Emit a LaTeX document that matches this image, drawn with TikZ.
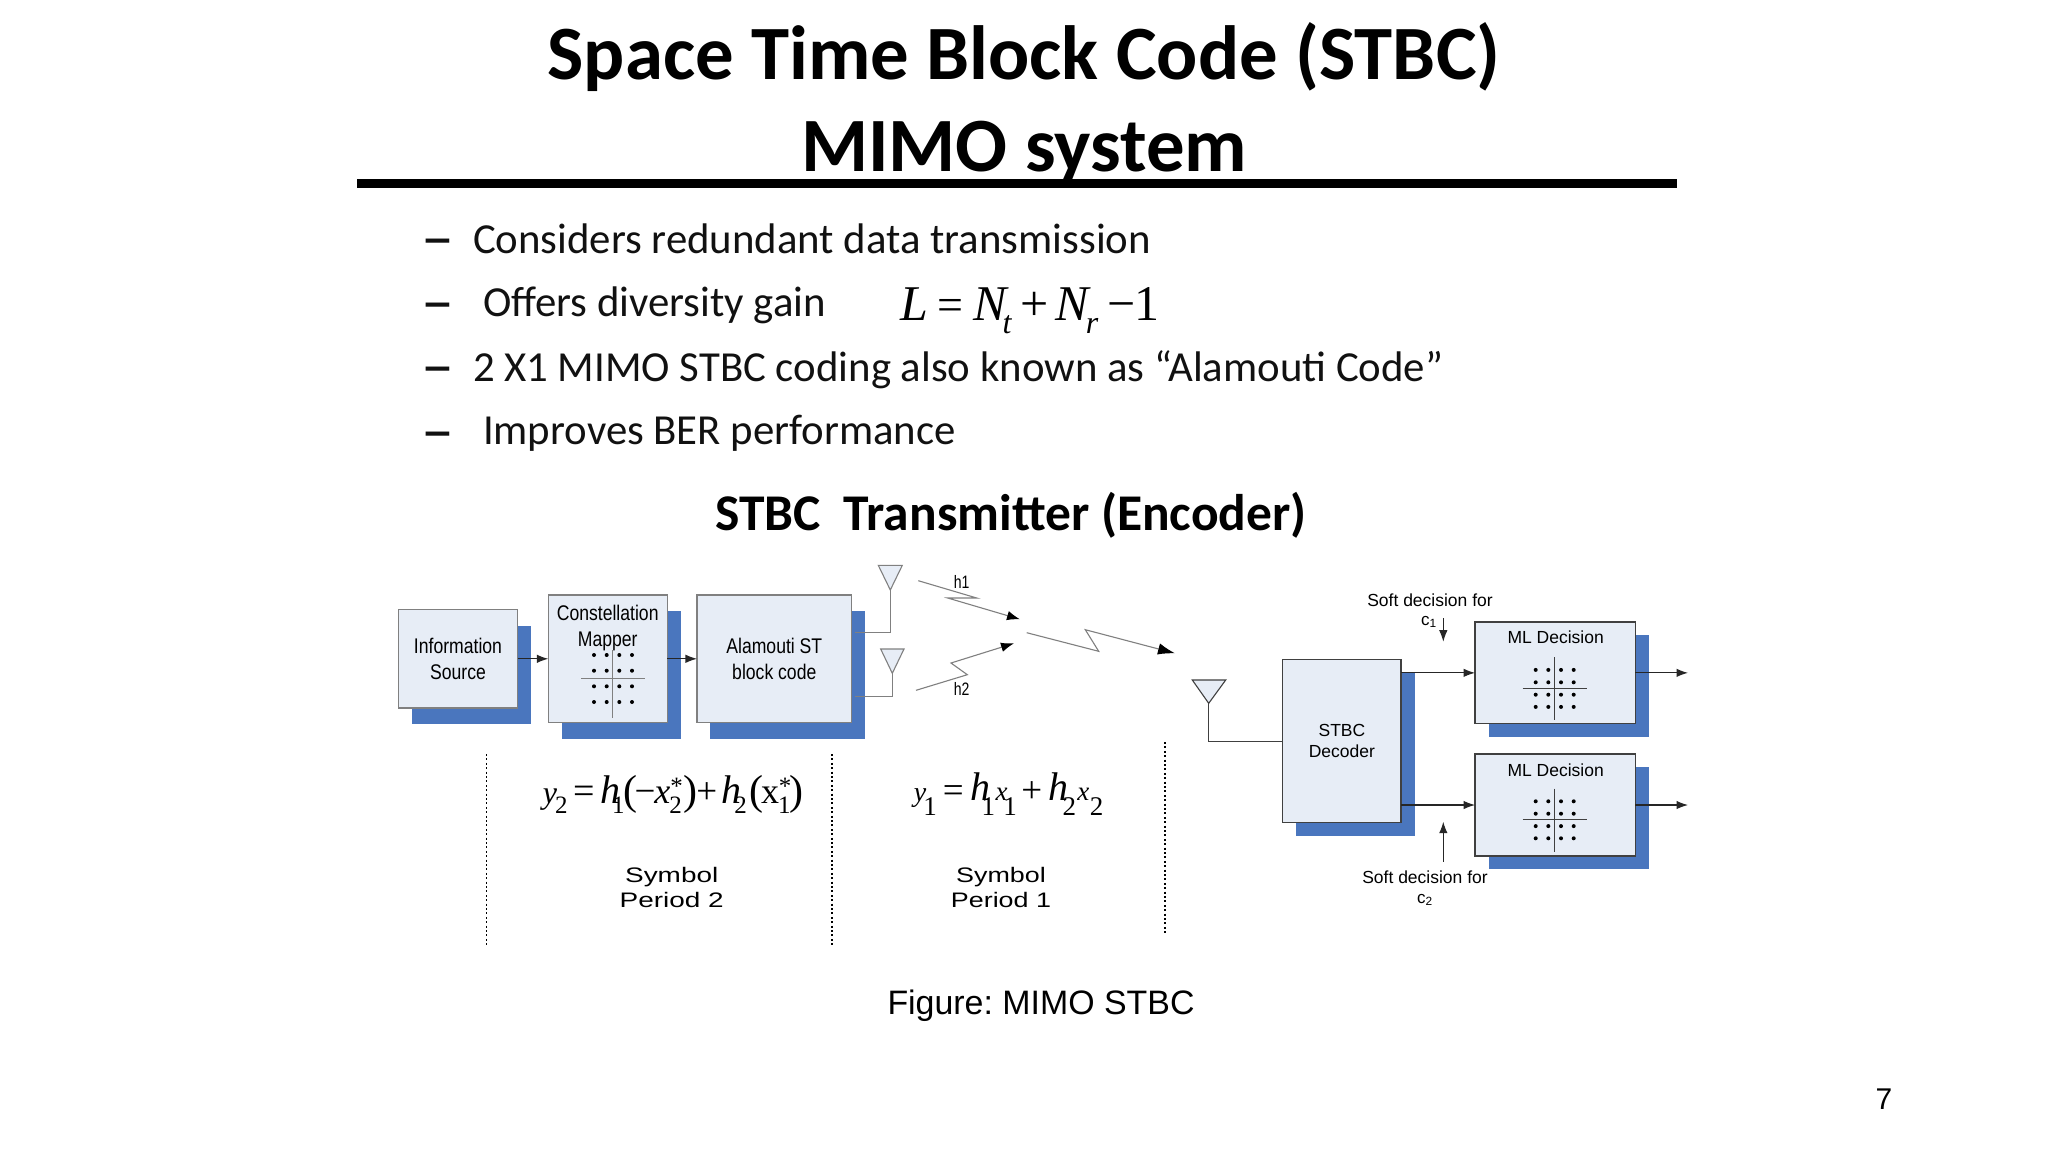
\documentclass[tikz,border=0pt]{standalone}
\usepackage{fontspec}
\usetikzlibrary{arrows.meta,backgrounds,calc}
\setmainfont{Liberation Sans}
\newfontfamily\slidefont{Carlito}
\newfontfamily\mathsfont{Liberation Serif}
\newfontfamily\condfont[FakeStretch=0.83]{Liberation Sans}
\newfontfamily\hfont[FakeStretch=0.78]{Liberation Sans}
\newfontfamily\widefont[FakeStretch=1.33]{Liberation Sans}
\newfontfamily\widerfont[FakeStretch=1.28]{Liberation Sans}
\newcommand\fs[2]{\fontsize{#1pt}{#2pt}\selectfont}
% a glyph of a hand-set formula: centre x, raise, size, text
\newcommand\gly[4]{\makebox[0pt][l]{\kern#1pt\makebox[0pt][c]{\raisebox{#2pt}{\fs{#3}{#3}#4}}}}
\definecolor{boxfill}{HTML}{E7EDF6}
\definecolor{blockblue}{HTML}{4A76BE}
\definecolor{leftline}{HTML}{808080}
\definecolor{rightline}{HTML}{404040}
\definecolor{slideink}{HTML}{111111}
\frenchspacing
\tikzset{
  txt/.style={inner sep=0pt,outer sep=0pt,align=center},
  basetxt/.style={inner sep=0pt,outer sep=0pt,anchor=base west},
  basemid/.style={inner sep=0pt,outer sep=0pt,anchor=base},
  bullet/.style={basetxt,text=slideink,font=\slidefont\frenchspacing\fs{42.8}{50}},
  dashmark/.style={basetxt,text=slideink,font=\slidefont\fs{66}{70}},
  lbox/.style={draw=leftline,fill=boxfill,line width=1.2pt,inner sep=0pt,outer sep=0pt,align=center,font=\condfont\fs{21.2}{26}},
  rbox/.style={draw=rightline,fill=boxfill,line width=1.2pt,inner sep=0pt,outer sep=0pt,align=center,font=\fs{17.5}{20.5}},
  lwire/.style={draw=leftline,line width=1.1pt},
  rwire/.style={draw=rightline,line width=1.1pt},
  darrow/.style={draw=black!85,line width=1.1pt,-{Latex[length=11.5pt,width=8.5pt]}},
  lant/.style={draw=leftline,fill=boxfill,line width=1.1pt,line join=miter},
  rant/.style={draw=rightline,fill=boxfill,line width=1.1pt,line join=miter},
  bolt/.style={draw=leftline,line width=1.1pt,line join=miter},
  divider/.style={draw=black,line width=1.6pt,dash pattern=on 2pt off 2.4pt},
  small/.style={txt,font=\fs{17.5}{20}},
}
\newcommand\blockshadow[2]{\fill[blockblue] ([shift={(13.5,#2)}]#1.north west) rectangle ([shift={(13.5,#2)}]#1.south east);}
\newcommand\mlgrid[1]{%
  \foreach \gx in {-19,-6.4,6.3,19} \foreach \gy in {-18.4,-6,6.4,18.6}
    \fill[black] ($(#1)+(\gx,\gy)$) circle (2pt);
  \draw[rwire] ($(#1)+(-32,0)$) -- ($(#1)+(32,0)$);
  \draw[rwire] ($(#1)+(0,-31)$) -- ($(#1)+(0,32)$);
}
\begin{document}
\begin{tikzpicture}[x=1pt,y=-1pt]
\useasboundingbox (0,0) rectangle (2048,1152);

% title
\node[basemid,font=\slidefont\bfseries\fs{76.8}{90}] (title1) at (1024,79.5) {Space Time Block Code (STBC)};
\node[basemid,font=\slidefont\bfseries\fs{76.8}{90}] (title2) at (1024,171) {MIMO system};
\fill[black] (357.3,178.5) rectangle (1677,187.7);

% bullets
\node[dashmark] (d1) at (421,259) {–};
\node[bullet] (b1) at (473,253) {Considers redundant data transmission};
\node[dashmark] (d2) at (421,323.5) {–};
\node[bullet] (b2) at (483,316.5) {Offers diversity gain};
\node[dashmark] (d3) at (421,387) {–};
\node[bullet] (b3) at (473,381.5) {2 X1 MIMO STBC coding also known as “Alamouti Code”};
\node[dashmark] (d4) at (421,452) {–};
\node[bullet] (b4) at (483,444.5) {Improves BER performance};

\node[basetxt,font=\mathsfont] (eqL) at (902,320) {\makebox[252pt][l]{%
  \gly{12}{0}{50}{\itshape L}\gly{48}{0}{46}{=}\gly{87.7}{0}{50}{\itshape N}\gly{105}{-13}{32}{\itshape t}%
  \gly{133}{0}{50}{+}\gly{170}{0}{50}{\itshape N}\gly{190}{-13}{32}{\itshape r}%
  \gly{219.7}{0}{50}{−}\gly{244.7}{0}{50}{1}}};

\node[basemid,font=\slidefont\bfseries\fs{51.5}{56}] (enc) at (1011,530) {STBC\ \ Transmitter (Encoder)};

% transmitter blocks
\node[lbox,minimum width=119.2pt,minimum height=98.2pt] (info) at (458,658.8) {Information\\Source};
\node[lbox,minimum width=119pt,minimum height=127.7pt] (map) at (607.8,658.8) {};
\node[lbox,minimum width=154.7pt,minimum height=127.7pt] (ala) at (774.3,658.8) {Alamouti ST\\block code};
\node[txt,font=\condfont\fs{21.2}{26}] (maptxt) at (607.7,628) {Constellation\\Mapper};
\begin{scope}[on background layer]
\fill[white] (0,0) rectangle (2048,1152);
\blockshadow{info}{16}\blockshadow{map}{16}\blockshadow{ala}{16}
\end{scope}
\foreach \gx in {594,606.7,619.3,632} \foreach \gy in {655,670.7,686.3,702}
  \fill[black] (\gx,\gy) circle (2pt);
\coordinate (mapc) at (612.7,678.3);
\draw[lwire] ($(mapc)+(-31.4,0)$) -- ($(mapc)+(32.3,0)$);
\draw[lwire] ($(mapc)+(0,-28)$) -- ($(mapc)+(0,39.4)$);
\draw[darrow] (info.east) -- (map.west);
\draw[darrow] (map.east) -- (ala.west);

% transmit antennas
\coordinate (t1tip) at (890.3,590);
\coordinate (t1a) at (878.3,565.3);
\coordinate (t1b) at (902.3,565.3);
\coordinate (t1start) at (855,632.3);
\coordinate (t2tip) at (892.3,673.3);
\coordinate (t2a) at (880.7,649);
\coordinate (t2b) at (904,649);
\coordinate (t2start) at (855,696.7);
\draw[lant] (t1a) -- (t1b) -- (t1tip) -- cycle;
\draw[lant] (t2a) -- (t2b) -- (t2tip) -- cycle;
\draw[lwire] (t1start) -| (t1tip);
\draw[lwire] (t2start) -| (t2tip);

% channels
\coordinate (a0) at (918.3,580.7);\coordinate (a1) at (976.7,598);\coordinate (a2) at (947.7,598);\coordinate (a3) at (1020,619.3);
\coordinate (c0) at (916,690.3);\coordinate (c1) at (967.3,674.7);\coordinate (c2) at (951,663);\coordinate (c3) at (1014,643.3);
\coordinate (e0) at (1026.7,632.7);\coordinate (e1) at (1098.7,651.3);\coordinate (e2) at (1085.3,629.7);\coordinate (e3) at (1175,653.3);
\draw[bolt,-{Latex[length=13pt,width=9.5pt,black]}] (a0) -- (a1) -- (a2) -- (a3);
\draw[bolt,-{Latex[length=13pt,width=9.5pt,black]}] (c0) -- (c1) -- (c2) -- (c3);
\draw[bolt,-{Latex[length=17pt,width=11.5pt,black]}] (e0) -- (e1) -- (e2) -- (e3);
\node[txt,font=\hfont\fs{18}{20}] (h1) at (961.7,582.3) {h1};
\node[txt,font=\hfont\fs{18}{20}] (h2) at (961.7,689.3) {h2};

% receiver
\node[rbox,minimum width=118.3pt,minimum height=163pt] (dec) at (1341.9,741.2) {STBC\\Decoder};
\node[rbox,minimum width=160.3pt,minimum height=101.7pt] (ml1) at (1555.2,672.85) {};
\node[rbox,minimum width=160.3pt,minimum height=102pt] (ml2) at (1555.2,805) {};
\node[small] (ml1t) at (1555.7,637.3) {ML Decision};
\node[small] (ml2t) at (1555.7,770) {ML Decision};
\begin{scope}[on background layer]
\blockshadow{dec}{13.2}\blockshadow{ml1}{13.2}\blockshadow{ml2}{13.2}
\end{scope}
\coordinate (mlc1) at (1554.7,688.3);
\coordinate (mlc2) at (1554.7,819.7);
\mlgrid{mlc1}
\mlgrid{mlc2}
\coordinate (rtip) at (1208.7,703.3);
\coordinate (ra) at (1192.3,680);
\coordinate (rb) at (1225.7,680);
\draw[rant] (ra) -- (rb) -- (rtip) -- cycle;
\draw[rwire] (rtip) |- (dec.west);
\coordinate (out1) at (1688,672.85);
\coordinate (out2) at (1688,805);
\draw[darrow] (ml1.west -| dec.east) -- (ml1.west);
\draw[darrow] (ml2.west -| dec.east) -- (ml2.west);
\draw[darrow] (ml1.east) -- (out1);
\draw[darrow] (ml2.east) -- (out2);
\node[small] (s1) at (1430,600) {Soft decision for};
\node[txt,font=\fs{17}{20}] (s1c) at (1429,622) {c\textsubscript{1}};
\node[small] (s2) at (1425,877.7) {Soft decision for};
\node[txt,font=\fs{17}{20}] (s2c) at (1425,900) {c\textsubscript{2}};
\coordinate (sa1) at (1443.3,618.3);\coordinate (sb1) at (1443.3,641.7);
\coordinate (sa2) at (1443.3,861.7);\coordinate (sb2) at (1443.3,821.7);
\draw[darrow] (sa1) -- (sb1);
\draw[darrow] (sa2) -- (sb2);

% symbol periods
\coordinate (v1a) at (486.5,754);\coordinate (v1b) at (486.5,945);
\coordinate (v2a) at (832,754);\coordinate (v2b) at (832,945);
\coordinate (v3a) at (1165,742);\coordinate (v3b) at (1165,933);
\draw[divider] (v1a) -- (v1b);
\draw[divider] (v2a) -- (v2b);
\draw[divider] (v3a) -- (v3b);
\node[basetxt,font=\mathsfont] (eq2) at (530,803.3) {\makebox[275pt][l]{%
  \gly{20}{0}{32}{\itshape y}\gly{31.3}{-10}{25}{2}\gly{54}{0}{38}{=}\gly{80}{0}{40}{\itshape h}\gly{88.3}{-10}{25}{1}%
  \gly{100.7}{-1}{42}{(}\gly{115}{0}{37}{−}\gly{132.3}{0}{36}{\itshape x}\gly{146.7}{9.3}{25}{*}\gly{145.7}{-10}{25}{2}%
  \gly{160}{-1}{42}{)}\gly{176.7}{0}{37}{+}\gly{201.7}{0}{40}{\itshape h}\gly{210.7}{-10}{25}{2}%
  \gly{226.7}{-1}{42}{(}\gly{240}{0}{36}{x}\gly{255}{9.3}{25}{*}\gly{254.3}{-10}{25}{1}\gly{266.7}{-1}{42}{)}}};
\node[basetxt,font=\mathsfont] (eq1) at (900,800) {\makebox[205pt][l]{%
  \gly{20}{-1}{28}{\itshape y}\gly{30}{-15}{27}{1}\gly{53.3}{-2}{37}{=}\gly{80}{0}{40}{\itshape h}\gly{88.3}{-15}{27}{1}%
  \gly{101.7}{0}{27}{\itshape x}\gly{110}{-15}{27}{1}\gly{131.7}{-2}{37}{+}\gly{158.7}{0}{40}{\itshape h}%
  \gly{169.3}{-15}{27}{2}\gly{183.3}{0}{27}{\itshape x}\gly{196.7}{-15}{27}{2}}};
\node[txt,font=\widefont\fs{21}{25}] (p2) at (671.7,887.5) {Symbol\\Period 2};
\node[txt,font=\widerfont\fs{21}{25}] (p1) at (1001,887.5) {Symbol\\Period 1};

\node[basemid,font=\fs{33.9}{40}] (cap) at (1041,1014) {Figure: MIMO STBC};
\node[basemid,font=\fs{30}{32}] (num) at (1884,1109) {7};
\end{tikzpicture}
\end{document}
